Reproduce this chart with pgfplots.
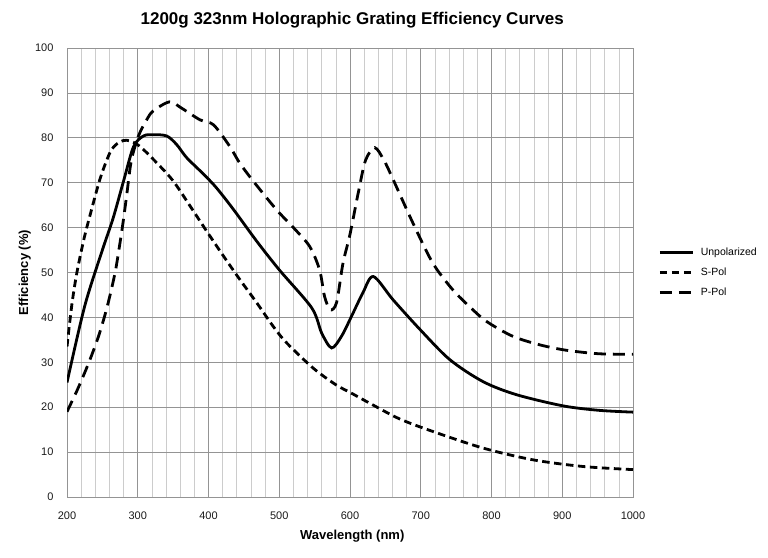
\documentclass[border=0pt]{standalone}
\usepackage{fontspec}
\setmainfont{Liberation Sans}
\usepackage{pgfplots}
\pgfplotsset{compat=1.18}

\begin{document}
\begin{tikzpicture}
\useasboundingbox (0,0) rectangle (768bp,558bp);
\begin{axis}[
    at={(67bp,61bp)}, anchor=south west,
    width=566bp, height=449bp, scale only axis,
    xmin=200, xmax=1000, ymin=0, ymax=100,
    xtick={200,300,...,1000}, ytick={0,10,...,100},
    minor x tick num=4,
    grid=both,
    major grid style={draw=black!42, line width=0.7bp},
    minor grid style={draw=black!20, line width=0.7bp},
    axis line style={draw=black!42, line width=0.7bp},
    tick style={draw=none},
    /pgf/number format/assume math mode=true,
    /pgf/number format/1000 sep={},
    ticklabel style={font=\fontsize{11bp}{13bp}\selectfont, text=black!90},
    yticklabel style={xshift=-10bp},
    xticklabel style={yshift=-11bp},
    title={\textbf{1200g 323nm Holographic Grating Efficiency Curves}},
    title style={font=\fontsize{17bp}{20bp}\selectfont, at={(axis description cs:0.504,1)}, anchor=base, yshift=17.3bp},
    xlabel={\textbf{Wavelength (nm)}},
    xlabel style={font=\fontsize{13bp}{15bp}\selectfont, at={(axis description cs:0.504,0)}, anchor=base, yshift=-42.3bp},
    ylabel={\textbf{Efficiency (\%)}},
    ylabel style={font=\fontsize{13bp}{15bp}\selectfont, at={(axis description cs:-0.0689,0.5)}, anchor=base},
    legend cell align=left,
    legend image code/.code={\draw[#1] (0bp,0bp) -- (33bp,0bp);},
    legend style={draw=none, fill=none, inner sep=0pt, at={(1.0447,0.5)}, anchor=west,
        font=\fontsize{10.5bp}{12bp}\selectfont, row sep=10.6bp,
        nodes={inner sep=0pt},
        /tikz/column 1/.style={column sep=6.5bp}},
    every axis plot/.append style={line width=2.8bp, smooth, tension=0.5},
]
% Unpolarized
\addplot[black, solid] coordinates {
(200,25.5) (225,42.5) (250,55) (265,62) (280,70.4) (294,78)
(308,80.4) (322,80.7) (341,80.4) (355,78.5) (369,75.6) (393,71.9)
(411,68.9) (435,64.1) (468,57) (500,50.6) (546,42.1)
(560,36.5) (574,33.2) (588,35.8) (602,40.2) (618,45.4) (633,49.1)
(661,43.9) (699,37.3) (741,30.6) (788,25.7) (835,22.8) (901,20.3)
(952,19.3) (1000,18.9)};
% S-Pol
\addplot[black, dash pattern=on 7.5bp off 4.5bp] coordinates {
(200,33.5) (207,43) (214,50) (224,57.5) (233,63) (247,71) (261,76.8)
(271,78.7) (280,79.4) (289,79.3) (303,78.1) (327,74.4) (350,70.4)
(374,64.8) (397,59.3) (421,53.7) (444,48.5) (468,43.3) (491,38.1)
(510,34.4) (548,28.7) (580,25) (600,23.3) (630,20.7) (670,17.4)
(717,14.6) (788,10.9) (858,8.3) (929,6.8) (1000,6.1)};
% P-Pol
\addplot[black, dash pattern=on 12bp off 7bp] coordinates {
(200,19) (215,24) (231,30) (245,36) (257,42.5) (268,50) (275,56.7)
(280,62) (285,68) (291,75) (301,80.4) (313,84.1) (322,86) (345,88)
(362,86.6) (388,84) (407,82.9) (430,78.1) (444,74.4) (463,70.4)
(496,64) (520,60) (543,55.8) (557,50.6) (564,44.7) (572,41.7)
(581,43.3) (590,52) (600,58.5) (612,68) (622,75) (635,77.8) (648,75)
(661,70.7) (689,61) (717,52.1) (745,46.2) (769,42.4) (793,39.1)
(830,35.8) (868,33.9) (905,32.7) (952,31.9) (1000,31.8)};
\legend{Unpolarized, S-Pol, P-Pol}
\end{axis}
\end{tikzpicture}
\end{document}
